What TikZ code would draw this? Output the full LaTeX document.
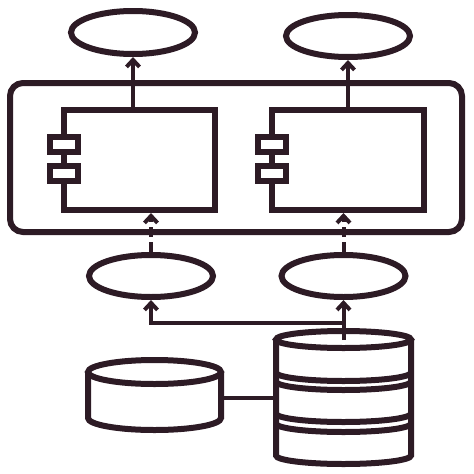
\documentclass[tikz,border=0pt]{standalone}
\usepackage{tikz}
\usepackage{xcolor}
\usetikzlibrary{arrows.meta,shapes.geometric}

\definecolor{ink}{HTML}{2D1B25}

\begin{document}
\begin{tikzpicture}[x=1pt,y=-1pt,
    ink line/.style={draw=ink,line width=6pt},
    oval/.style={ink line,ellipse,inner sep=0pt,minimum width=124pt,minimum height=42pt},
    compbox/.style={ink line,rectangle,inner sep=0pt,minimum height=100pt},
    portbox/.style={ink line,rectangle,fill=white,inner sep=0pt,outer sep=0pt,minimum width=27.5pt,minimum height=14.5pt},
    link/.style={draw=ink,line width=4pt},
    tip/.style={-{Straight Barb[length=7pt,width=13pt]}},
    dashlink/.style={link,tip,dash pattern=on 10pt off 5pt}]
  \useasboundingbox (0,0) rectangle (474,474);

  % container with the two components
  \node[ink line,rectangle,rounded corners=13pt,inner sep=0pt,
        minimum width=452pt,minimum height=149pt] (frame) at (236,157.5) {};
  \node[compbox,minimum width=151pt] (compA) at (139.5,160) {};
  \node[compbox,minimum width=152pt] (compB) at (348,160) {};
  \node[portbox] (portA1) at (64,144.5) {};
  \node[portbox] (portA2) at (64,173.5) {};
  \node[portbox] (portB1) at (272,144.5) {};
  \node[portbox] (portB2) at (272,173.5) {};

  % interfaces
  \node[oval,minimum height=43pt] (outA) at (133,32.5) {};
  \node[oval] (outB) at (348,36) {};
  \node[oval] (inA) at (151,276) {};
  \node[oval] (inB) at (343.5,276) {};

  \draw[link,tip] (compA.north -| outA) -- (outA.south);
  \draw[link,tip] (compB.north -| outB) -- (outB.south);
  \draw[dashlink] (inA.north) -- (inA.north |- compA.south);
  \draw[dashlink] (inB.north) -- (inB.north |- compB.south);

  % small database
  \draw[ink line] (88,372) -- (88,418)
    arc[start angle=180,end angle=360,x radius=66.5pt,y radius=12pt] -- (221,372);
  \draw[ink line] (154.5,372) ellipse[x radius=66.5pt,y radius=12pt];

  % big database, three sections
  \draw[ink line] (276,339.5) -- (276,455.5)
    arc[start angle=180,end angle=360,x radius=67.5pt,y radius=8.5pt] -- (411,339.5);
  \draw[ink line] (343.5,339.5) ellipse[x radius=67.5pt,y radius=8.5pt];
  \foreach \y in {372.5,381.5,413.5,423.5}
    \draw[ink line] (276,\y) arc[start angle=180,end angle=360,x radius=67.5pt,y radius=8.5pt];

  \coordinate (dbTop) at (343.5,340);
  \coordinate (split) at (343.5,323);
  \coordinate (smallRight) at (221,398);
  \coordinate (bigLeft) at (276,398);

  \draw[link,tip] (dbTop) -- (inB.south);
  \draw[link,tip] (split) -| (inA.south);
  \draw[link] (smallRight) -- (bigLeft);
\end{tikzpicture}
\end{document}
